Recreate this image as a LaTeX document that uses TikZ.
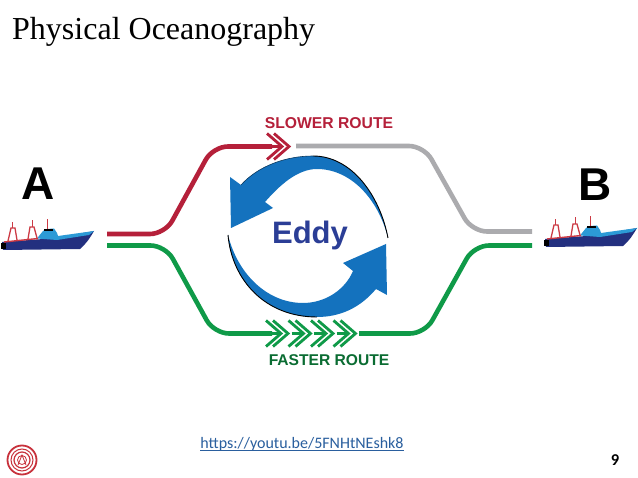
\documentclass[tikz,border=0pt]{standalone}
\usepackage{fontspec}
\setmainfont{Liberation Serif}
\newfontfamily\arialf{Liberation Sans}
\newfontfamily\calf{Carlito}
\definecolor{rred}{HTML}{B5203A}
\definecolor{rgrey}{HTML}{ABABAE}
\definecolor{rgreen}{HTML}{0F9A48}
\definecolor{eblue}{HTML}{1472BE}
\definecolor{etext}{HTML}{2B3E96}
\definecolor{linkc}{HTML}{2A5F9E}
\definecolor{hull}{HTML}{23307F}
\definecolor{deck}{HTML}{2C9AD6}
\definecolor{crane}{HTML}{CC3A44}
\definecolor{logor}{HTML}{C8323C}
\tikzset{
  route/.style={line width=4.6pt,rounded corners=15pt},
  chev/.style={line width=2.8pt,miter limit=10},
  lbl/.style={inner sep=0pt},
  swirl/.style={fill=eblue,draw=none},
  edge/.style={draw=black,line width=0.9pt,fill=none},
  pics/ship/.style={code={
    \fill[hull] (2,242) -- (3,250) -- (80,249) .. controls (86,244) and (90,238) .. (94,231) -- (57,238) -- cycle;
    \fill[black] (1,243) rectangle (6,249);
    \fill[deck] (37,238.5) -- (43,231) -- (47,229) -- (54,228.5) -- (57,233) -- (58,236) -- (94,231) -- (89,235) -- (57,240) -- cycle;
    \fill[black] (44,229) rectangle (53,231);
    \draw[crane,line width=1.4pt] (4,242) -- (38,238.5);
    \draw[crane,line width=1.3pt] (8,241) -- (11,228) -- (15,228) -- (17,240);
    \draw[crane,line width=1.3pt] (28,239) -- (30,227) -- (34,227) -- (37,238);
    \draw[crane,line width=.9pt] (12.5,228) -- (12.5,222) (32,227) -- (32,220) (47,229) -- (47,219);
  }},
  pics/chevpair/.style={code={
    \draw[chev] (-15,-13) -- (0,0) -- (-15,13);
    \draw[chev] (-22,-13) -- (-7,0) -- (-22,13);
    \draw[line width=3pt] (-19,0) -- (-9,0);
  }}
}
\begin{document}
\begin{tikzpicture}[x=1pt,y=-1pt]
\useasboundingbox (0,0) rectangle (638,478);
\fill[white] (0,0) rectangle (638,478);
\node[anchor=west,inner sep=0pt,font=\fontsize{32}{36}\selectfont] (title) at (12,32) {Physical Oceanography};

% route ends
\coordinate (rA) at (107,234);
\coordinate (rE) at (272,146.5);
\coordinate (gyS) at (296,146);
\coordinate (gyE) at (532,231.5);
\coordinate (grA) at (107,245.5);
\coordinate (grM) at (272,333.5);
\coordinate (grS) at (359,333.5);
\coordinate (grE) at (532,245.5);

\draw[route,rred] (rA) -- (165,234) -- (213,146.5) -- (rE);
\draw[route,rgrey] (gyS) -- (424,146) -- (472,231.5) -- (gyE);
\draw[route,rgreen] (grA) -- (165.5,245.5) -- (214,333.5) -- (grM);
\draw[route,rgreen] (grS) -- (425,333.5) -- (474,245.5) -- (grE);

\pic[rred] at (289,146.5) {chevpair};
\pic[rgreen] at (288,333.5) {chevpair};
\pic[rgreen] at (310.5,333.5) {chevpair};
\pic[rgreen] at (333,333.5) {chevpair};
\pic[rgreen] at (355.5,333.5) {chevpair};

% eddy arrows
\fill[swirl] (230,177) -- (241,185)
  .. controls (258,166) and (286,156) .. (313,156)
  .. controls (352,156) and (380,196) .. (388,238)
  .. controls (378,198) and (350,169) .. (317,169)
  .. controls (297,169) and (279,186) .. (265,202)
  -- (273,208) -- (231,228) -- cycle;
\draw[edge] (313,156) .. controls (352,156) and (380,196) .. (388,238);
\draw[edge,line width=.6pt,eblue!50!black] (241,185) .. controls (258,166) and (286,156) .. (313,156);
\fill[swirl] (386,244) -- (387,295) -- (376,289)
  .. controls (360,308) and (340,317) .. (317,317)
  .. controls (265,317) and (232,280) .. (228,235)
  .. controls (238,275) and (268,303) .. (303,303)
  .. controls (325,303) and (345,290) .. (353,271)
  -- (343,263) -- cycle;
\draw[edge] (317,317) .. controls (265,317) and (232,280) .. (228,235);

% labels
\node[lbl,rred,font=\arialf\bfseries\fontsize{15.7}{18}\selectfont] (slow) at (329,123) {SLOWER ROUTE};
\node[lbl,rgreen!70!black,font=\arialf\bfseries\fontsize{15.6}{18}\selectfont] (fast) at (329,360) {FASTER ROUTE};
\node[lbl,etext,font=\arialf\bfseries\fontsize{31}{36}\selectfont] (eddy) at (310,235) {Eddy};
\node[lbl,font=\arialf\bfseries\fontsize{46}{50}\selectfont] (A) at (38,184) {A};
\node[lbl,font=\arialf\bfseries\fontsize{46}{50}\selectfont] (B) at (595,185) {B};

% ships
\pic at (0,0) {ship};
\pic at (543,-3) {ship};

% footer
\node[inner sep=0pt,linkc,font=\calf\fontsize{16}{18}\selectfont] (link) at (302,444) {https://youtu.be/5FNHtNEshk8};
\draw[linkc,line width=.8pt] ([yshift=.5pt]link.south west) -- ([yshift=.5pt]link.south east);
\node[inner sep=0pt,font=\calf\bfseries\fontsize{16.5}{18}\selectfont] (page) at (615,460) {9};

% logo
\draw[logor,line width=1.8pt] (22,460) circle (14.5);
\draw[logor,line width=1pt] (22,460) circle (11);
\draw[logor,line width=1.2pt] (22,460) circle (8);
\draw[logor,line width=.8pt] (22,460) circle (4.5);
\draw[logor,line width=.8pt] (18,465) -- (22,455) -- (26,465);
\end{tikzpicture}
\end{document}
